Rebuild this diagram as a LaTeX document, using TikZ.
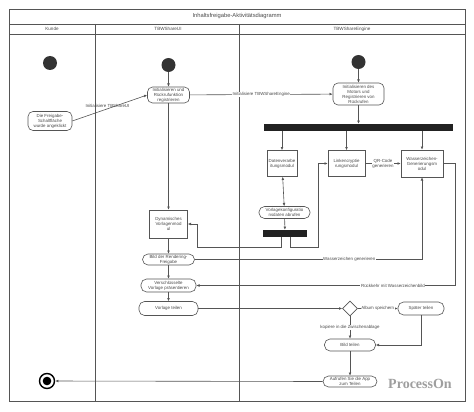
\documentclass[tikz,border=0pt]{standalone}
\usepackage{fontspec}
\setmainfont{Liberation Sans}
\newfontfamily\wmfont{Liberation Serif}
\usetikzlibrary{shapes.geometric,arrows.meta}

\definecolor{linegray}{HTML}{555555}
\definecolor{txtgray}{HTML}{4A4A4A}
\definecolor{barblack}{HTML}{222222}
\definecolor{dotgray}{HTML}{333333}

\tikzset{
  lane/.style={draw=linegray, line width=0.6pt},
  act/.style={draw=linegray, line width=0.6pt, rounded corners=5pt, fill=white, align=center, inner sep=0pt, text=txtgray, font=\fontsize{4.4}{5}\selectfont},
  pill/.style={act, rounded corners=5.5pt},
  module/.style={act, sharp corners},
  bar/.style={fill=barblack, inner sep=0pt},
  start/.style={circle, fill=dotgray, minimum size=14pt, inner sep=0pt},
  flow/.style={draw=linegray, line width=0.6pt, -{Latex[length=3.2pt,width=2.8pt]}},
  lbl/.style={fill=white, inner sep=0.6pt, align=center, text=txtgray, font=\fontsize{4.4}{5}\selectfont},
}

\begin{document}
\begin{tikzpicture}[x=1pt,y=-1pt]
\useasboundingbox (0,0) rectangle (474,412);

\draw[lane] (9,9) rectangle (465,401);
\draw[lane] (9,24) -- (465,24);
\draw[lane] (9,34) -- (465,34);
\draw[lane] (95,24) -- (95,401);
\draw[lane] (239,24) -- (239,401);
\node[text=txtgray, font=\fontsize{5.8}{6}\selectfont] (title) at (237,16.5) {Inhaltsfreigabe-Aktivitätsdiagramm};
\node[text=txtgray, font=\fontsize{4.6}{5}\selectfont] (kunde) at (52,29) {Kunde};
\node[text=txtgray, font=\fontsize{4.6}{5}\selectfont] (ui) at (168,29) {TBWShareUI};
\node[text=txtgray, font=\fontsize{4.6}{5}\selectfont] (engine) at (352,29) {TBWShareEngine};

\node[start] (startK) at (50,63) {};
\node[start] (startU) at (168.5,65) {};
\node[start] (startE) at (358.5,62) {};

\node[act, minimum width=44pt, minimum height=19pt] (clicked) at (50,121) {Die Freigabe-\\Schaltfläche\\wurde angeklickt};
\node[act, minimum width=42pt, minimum height=16pt] (uiinit) at (168.5,95) {Initialisieren und\\Rückrufunktion\\registrieren};
\node[act, minimum width=51pt, minimum height=22pt] (enginit) at (358.5,94) {Initialisieren des\\Motors und\\Registrieren von\\Rückrufen};

\node[bar, minimum width=189pt, minimum height=7pt] (fork) at (358.5,127.5) {};
\node[module, minimum width=30pt, minimum height=26pt] (data) at (282,163.5) {Datenverarbe\\itungsmodul};
\node[module, minimum width=37pt, minimum height=26pt] (link) at (346.5,163.5) {Linkencryptie\\rungsmodul};
\node[module, minimum width=42pt, minimum height=27pt] (water) at (422,163.5) {Wasserzeichen-\\Generierungsm\\odul};

\node[pill, minimum width=51pt, minimum height=12pt] (config) at (284.5,212.5) {Vorlagekonfiguratio\\nsdaten abrufen};
\node[bar, minimum width=44pt, minimum height=7pt] (join) at (285,233.5) {};
\node[module, minimum width=38pt, minimum height=28pt] (dyn) at (168.5,224) {Dynamisches\\Vorlagenmod\\ul};

\node[pill, minimum width=52pt, minimum height=11pt] (render) at (168.5,259.5) {Bild der Rendering-\\Freigabe};
\node[pill, minimum width=55pt, minimum height=13pt] (present) at (168.5,285.5) {Verschlüsselte\\Vorlage präsentieren};
\node[pill, minimum width=59pt, minimum height=14pt] (share) at (168.5,308.5) {Vorlage teilen};
\node[diamond, draw=linegray, line width=0.6pt, fill=white, minimum size=15pt, inner sep=0pt] (choice) at (350,308.5) {};
\node[pill, minimum width=46pt, minimum height=13pt] (later) at (421,308.5) {Später teilen};
\node[pill, minimum width=51pt, minimum height=12pt] (imgshare) at (350,345) {Bild teilen};
\node[pill, minimum width=54pt, minimum height=11pt] (callapp) at (350,381.5) {Aufrufen Sie die App\\zum Teilen};

\node[circle, draw=black, line width=1.4pt, minimum size=15pt, inner sep=0pt] (stop) at (47,381) {};
\fill[black] (stop) circle (4.3pt);

\node[text=black!38, font=\wmfont\bfseries\fontsize{14}{14}\selectfont] (logo) at (420,384) {ProcessOn};

\coordinate (leftturn) at (197,247);
\coordinate (rightturn) at (318,247);
\coordinate (backturn) at (455,285.5);

\draw[flow] (startU) -- (uiinit);
\draw[flow] (startE) -- (enginit);
\draw[flow] (clicked.east) -- node[lbl, fill=none, above, pos=0.47] {Initialisiere TBShareUI} (uiinit.west);
\draw[flow] (uiinit) -- node[lbl] {Initialisiere TBWShareEngine} (enginit);
\draw[flow] (enginit) -- (fork);
\draw[flow] (fork.south -| data) -- (data);
\draw[flow] (fork.south -| link) -- (link);
\draw[flow] (fork.south -| water) -- (water);
\draw[flow] (link) -- node[lbl] {QR-Code\\generieren} (water);
\draw[flow, {Latex[length=3.2pt,width=2.8pt]}-{Latex[length=3.2pt,width=2.8pt]}] (data) -- (config);
\draw[flow] (config) -- (join);
\draw[flow] ([xshift=-4pt]join.south) |- (leftturn) |- (dyn.east);
\draw[flow] ([xshift=5pt]join.south) |- (rightturn) |- (link.west);
\draw[flow] (uiinit) -- (dyn);
\draw[flow] (dyn) -- (render);
\draw[flow] (render) -- (present);
\draw[flow] (present) -- (share);
\draw[flow] (render.east) -| node[lbl, pos=0.34] {Wasserzeichen generieren} (water.south);
\draw[flow] (water.east) -| (backturn) -- node[lbl, pos=0.24] {Rückkehr mit Wasserzeichenbild} (present.east);
\draw[flow] (share) -- (choice);
\draw[flow] (choice) -- node[lbl] {Album speichern} (later);
\draw[flow] (choice) -- node[lbl] {kopiere in die Zwischenablage} (imgshare);
\draw[flow] (later.south) |- (imgshare.east);
\draw[flow] (imgshare) -- (callapp);
\draw[flow] (callapp.west) -- (stop);
\end{tikzpicture}
\end{document}
